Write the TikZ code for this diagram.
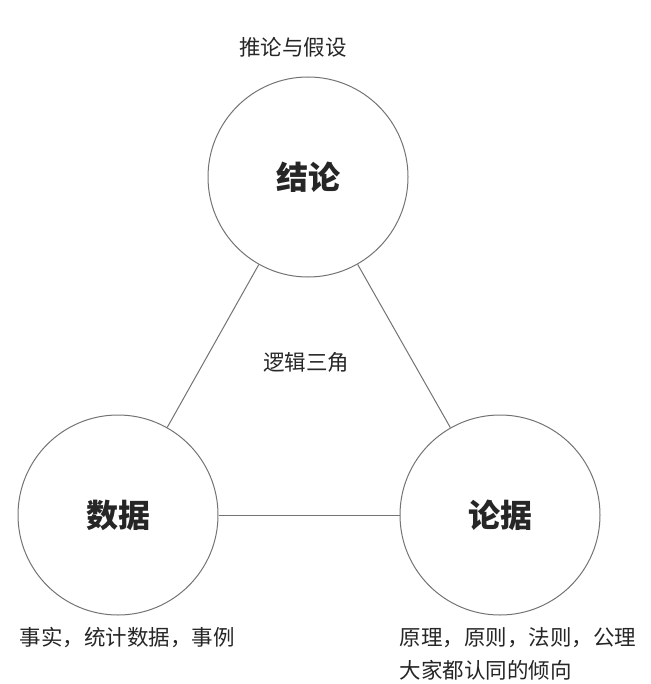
\documentclass[tikz,border=0pt]{standalone}
\usepackage{fontspec}
\newfontfamily\cjk{Noto Sans CJK SC}
\begin{document}
\begin{tikzpicture}[x=1pt,y=-1pt,
  circ/.style={circle,draw=black!55,line width=1pt,minimum size=200pt,inner sep=0pt,font=\cjk\fontsize{32}{38}\selectfont\bfseries,text=black!85},
  lbl/.style={font=\cjk\fontsize{21.5}{26}\selectfont,text=black!85},
  conn/.style={draw=black!55,line width=1pt}]
\useasboundingbox (0,0) rectangle (650,684);
\node[circ] (c) at (308,177) {结论};
\node[circ] (d) at (118,515) {数据};
\node[circ] (a) at (500,515) {论据};
\draw[conn] (c) -- (d);
\draw[conn] (c) -- (a);
\draw[conn] (d) -- (a);
\node[lbl] (t1) at (293,47) {推论与假设};
\node[lbl] (t2) at (306,362) {逻辑三角};
\node[lbl,anchor=west] (t3) at (16,638) {事实，统计数据，事例};
\node[lbl,anchor=west] (t4) at (396,638) {原理，原则，法则，公理};
\node[lbl,anchor=west] (t5) at (396,670) {大家都认同的倾向};
\end{tikzpicture}
\end{document}
